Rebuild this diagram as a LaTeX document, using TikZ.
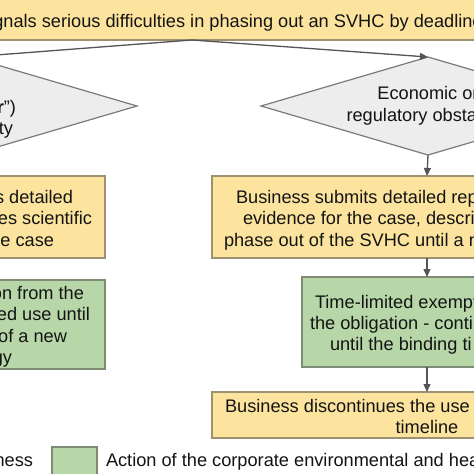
\documentclass[tikz,border=0pt]{standalone}
\usepackage{fontspec}
\setmainfont{Liberation Sans}
\usetikzlibrary{shapes.geometric,arrows.meta}
\definecolor{yfill}{HTML}{FCE49E}
\definecolor{yborder}{HTML}{9C9170}
\definecolor{gfill}{HTML}{B7D7A8}
\definecolor{gborder}{HTML}{7E8C76}
\definecolor{dfill}{HTML}{EDEDED}
\definecolor{dborder}{HTML}{7A7A7A}
\definecolor{conncol}{HTML}{555555}
\definecolor{txt}{HTML}{141414}
\begin{document}
\begin{tikzpicture}[x=1pt,y=-1pt,
  every node/.style={font=\fontsize{18.2}{21.5}\selectfont, text=txt},
  ybox/.style={rectangle, draw=yborder, fill=yfill, line width=1.2pt, inner sep=0pt, outer sep=0pt},
  gbox/.style={rectangle, draw=gborder, fill=gfill, line width=1.2pt, inner sep=0pt, outer sep=0pt},
  dia/.style={diamond, draw=dborder, fill=dfill, line width=1.2pt, inner sep=0pt, outer sep=0pt,
              minimum width=334pt, minimum height=98pt, shape aspect=3.4, align=center},
  frag/.style={inner sep=0pt, outer sep=0pt},
  conn/.style={draw=conncol, line width=1.3pt, -{Triangle[length=8pt,width=7pt]}, fill=conncol}
]
\useasboundingbox (0,0) rectangle (474,474);
\fill[white] (0,0) rectangle (474,474);
\clip (0,0) rectangle (474,474);

% boxes
\node[ybox, minimum width=700pt, minimum height=52pt] (top) at (192,14) {};
\node[frag, anchor=base] (toptext) at (192,27) {Business signals serious difficulties in phasing out an SVHC by deadline};

\node[dia] (ldia) at (-30,106) {};
\node[frag, anchor=base east] (ld2) at (16,113) {\textbf{r}”)};
\node[frag, anchor=base east] (ld3) at (13,134) {ty};

\node[dia] (rdia) at (428,106) {Economic or\\regulatory obstacles};

\node[ybox, minimum width=270pt, minimum height=82pt] (lyel) at (-30,217) {};
\node[frag, anchor=base east] (ly1) at (73,203) {s detailed};
\node[frag, anchor=base east] (ly2) at (92,224) {es scientific};
\node[frag, anchor=base east] (ly3) at (54,246) {e case};

\node[gbox, minimum width=270pt, minimum height=89pt] (lgrn) at (-30,324.5) {};
\node[frag, anchor=base east] (lg1) at (84,299) {on from the};
\node[frag, anchor=base east] (lg2) at (90,320) {ed use until};
\node[frag, anchor=base east] (lg3) at (67,342) {of a new};
\node[frag, anchor=base east] (lg4) at (12,363) {gy};

\node[ybox, minimum width=430pt, minimum height=82pt] (ryel) at (427,217) {};
\node[frag, anchor=base west] (ry1) at (236,203) {Business submits detailed rep};
\node[frag, anchor=base west] (ry2) at (243,224) {evidence for the case, descri};
\node[frag, anchor=base west] (ry3) at (224,246) {phase out of the SVHC until a n};

\node[gbox, minimum width=250pt, minimum height=90pt] (rgrn) at (427,322) {};
\node[frag, anchor=base west] (rg1) at (315,308) {Time-limited exempt};
\node[frag, anchor=base west] (rg2) at (310,329) {the obligation - conti};
\node[frag, anchor=base west] (rg3) at (330,350) {until the binding ti};

\node[ybox, minimum width=430pt, minimum height=46pt] (ryel2) at (427,415) {};
\node[frag, anchor=base west] (rb1) at (225,412) {Business discontinues the use};
\node[frag, anchor=base] (rb2) at (427,433) {timeline};

% legend
\node[frag, anchor=base east] (leg1) at (33,466) {ness};
\node[gbox, minimum width=45pt, minimum height=45pt] (legbox) at (74.5,469.5) {};
\node[frag, anchor=base west] (leg2) at (106,466) {Action of the corporate environmental and hea};

% connectors
\draw[conn] (top.south) -- (ldia.north);
\draw[conn] (top.south) -- (rdia.north);
\draw[conn] (rdia.south) -- (ryel.north);
\draw[conn] (ryel.south) -- (rgrn.north);
\draw[conn] (rgrn.south) -- (ryel2.north);
\end{tikzpicture}
\end{document}
